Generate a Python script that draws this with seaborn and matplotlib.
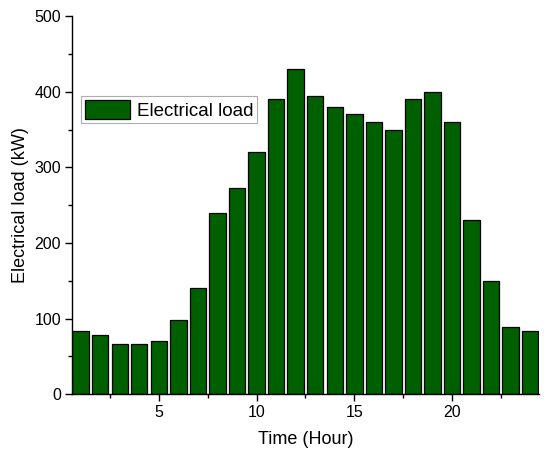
import matplotlib
matplotlib.use("Agg")
import matplotlib.pyplot as plt
from matplotlib.ticker import MultipleLocator
import pandas as pd
import seaborn as sns

hours = list(range(1, 25))
load_kw = [83, 78, 66, 66, 70, 98, 140, 240, 272, 320, 390, 430,
           395, 380, 370, 360, 350, 390, 400, 360, 230, 150, 89, 83]

df = pd.DataFrame({"hour": hours, "load": load_kw})

sns.set_style("ticks")
plt.rcParams["font.family"] = ["Liberation Sans", "DejaVu Sans"]
plt.rcParams["text.color"] = "black"
plt.rcParams["axes.labelcolor"] = "black"

fig = plt.figure(figsize=(5.5, 4.62), dpi=100)
ax = fig.add_axes([0.131, 0.147, 0.849, 0.818])

sns.barplot(data=df, x="hour", y="load", native_scale=True, width=0.84,
            color="#006000", saturation=1, edgecolor="black", linewidth=0.9,
            label="Electrical load", ax=ax)

ax.set_xlim(0.56, 24.45)
ax.set_ylim(0, 500)
ax.xaxis.set_major_locator(MultipleLocator(5))
ax.xaxis.set_minor_locator(MultipleLocator(2.5))
ax.yaxis.set_major_locator(MultipleLocator(100))
ax.yaxis.set_minor_locator(MultipleLocator(50))
ax.tick_params(which="major", direction="out", length=5, width=1, labelsize=11.5,
               colors="black", pad=3)
ax.tick_params(which="minor", direction="out", length=3, width=1, colors="black")
for s in ["top", "right"]:
    ax.spines[s].set_visible(False)
for s in ["left", "bottom"]:
    ax.spines[s].set_linewidth(1)
    ax.spines[s].set_color("black")

ax.set_xlabel("Time (Hour)", fontsize=13, labelpad=8)
ax.set_ylabel("Electrical load (kW)", fontsize=13, labelpad=4)

leg = ax.legend(loc="upper left", bbox_to_anchor=(0.019, 0.788), borderaxespad=0,
                fontsize=13.5, frameon=True, fancybox=False, edgecolor="#999999",
                handlelength=2.4, handleheight=1.15, borderpad=0.2,
                handletextpad=0.4)
leg.get_frame().set_linewidth(0.8)

fig.savefig("out.png", dpi=100)
